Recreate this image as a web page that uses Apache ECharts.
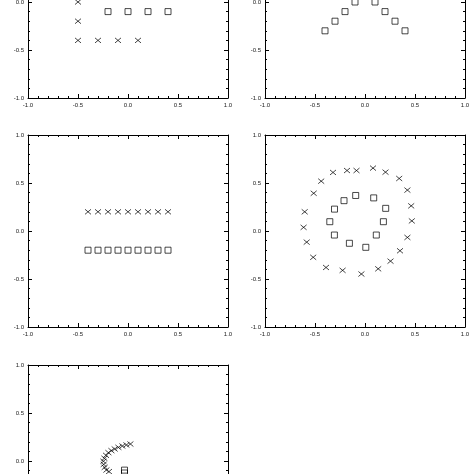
<!DOCTYPE html>
<html>
<head>
<meta charset="utf-8">
<script src="https://cdn.jsdelivr.net/npm/echarts@6/dist/echarts.min.js"></script>
<style>
html,body{margin:0;padding:0;background:#fff;}
#c{width:474px;height:474px;}
</style>
</head>
<body>
<div id="c"></div>
<script>
// Panel 1 (top-left)
var p1Cross = [[-0.5,0.0],[-0.5,-0.2],[-0.5,-0.4],[-0.3,-0.4],[-0.1,-0.4],[0.1,-0.4]];
var p1Square = [[-0.2,-0.1],[0.0,-0.1],[0.2,-0.1],[0.4,-0.1]];
// Panel 2 (top-right)
var p2Square = [[-0.4,-0.3],[-0.3,-0.2],[-0.2,-0.1],[-0.1,0.0],[0.1,0.0],[0.2,-0.1],[0.3,-0.2],[0.4,-0.3]];
// Panel 3 (middle-left)
var p3Cross = [[-0.4,0.2],[-0.3,0.2],[-0.2,0.2],[-0.1,0.2],[0.0,0.2],[0.1,0.2],[0.2,0.2],[0.3,0.2],[0.4,0.2]];
var p3Square = [[-0.4,-0.2],[-0.3,-0.2],[-0.2,-0.2],[-0.1,-0.2],[0.0,-0.2],[0.1,-0.2],[0.2,-0.2],[0.3,-0.2],[0.4,-0.2]];
// Panel 4 (middle-right)
var p4Cross = [[-0.32,0.61],[-0.18,0.63],[-0.085,0.63],[0.08,0.655],[0.205,0.613],[0.342,0.547],[0.424,0.426],[0.462,0.262],[0.468,0.105],
  [0.424,-0.067],[0.35,-0.206],[0.255,-0.314],[0.132,-0.394],[-0.036,-0.448],[-0.224,-0.41],[-0.39,-0.38],[-0.518,-0.274],
  [-0.583,-0.116],[-0.614,0.038],[-0.603,0.2],[-0.513,0.393],[-0.438,0.519]];
var p4Square = [[-0.093,0.37],[0.087,0.345],[0.207,0.236],[0.184,0.097],[0.113,-0.042],[0.008,-0.17],[-0.156,-0.128],
  [-0.306,-0.042],[-0.352,0.097],[-0.305,0.228],[-0.21,0.316]];
// Panel 5 (bottom-left)
var p5Cross = [[0.024,0.177],[-0.016,0.167],[-0.056,0.156],[-0.096,0.142],[-0.133,0.125],[-0.166,0.108],[-0.196,0.087],
  [-0.22,0.059],[-0.236,0.028],[-0.246,-0.003],[-0.243,-0.035],[-0.233,-0.066],[-0.216,-0.094],[-0.19,-0.11]];
var p5Square = [[-0.035,-0.095],[-0.035,-0.125]];
// Axis ticks
var axisMin = -1, axisMax = 1, axisStep = 0.5;

var grids = [
  {left:28, top:-94, width:200, height:192},
  {left:265, top:-94, width:200, height:192},
  {left:28, top:135, width:200, height:192},
  {left:265, top:135, width:200, height:192},
  {left:28, top:365, width:200, height:192}
].map(function(g){ g.outerBoundsMode = 'none'; g.containLabel = false; return g; });

var crossPath = 'path://M0,0L10,10M10,0L0,10';
function fmt(v){ return v.toFixed(1); }

var xAxes = [], yAxes = [];
grids.forEach(function(g, i){
  var common = {
    type:'value', gridIndex:i, min:axisMin, max:axisMax, interval:axisStep,
    splitLine:{show:false},
    axisLine:{show:true, onZero:false, lineStyle:{color:'#000', width:1}},
    axisTick:{show:true, inside:true, length:4, lineStyle:{color:'#000', width:1}},
    minorTick:{show:true, splitNumber:5, length:2, lineStyle:{color:'#000', width:1}}
  };
  var lbl = {show:true, color:'#222', fontSize:6, fontFamily:'Liberation Sans, Arial, sans-serif', formatter:fmt};
  xAxes.push(Object.assign({}, common, {position:'bottom', axisLabel:Object.assign({margin:4}, lbl)}));
  xAxes.push(Object.assign({}, common, {position:'top', axisLabel:{show:false}}));
  yAxes.push(Object.assign({}, common, {position:'left', axisLabel:Object.assign({margin:4}, lbl)}));
  yAxes.push(Object.assign({}, common, {position:'right', axisLabel:{show:false}}));
});

function crossSeries(data, i){
  return {type:'scatter', xAxisIndex:2*i, yAxisIndex:2*i, data:data, symbol:crossPath, symbolSize:[6,5],
    itemStyle:{color:'transparent', borderColor:'#000', borderWidth:0.9}, silent:true, animation:false};
}
function squareSeries(data, i){
  return {type:'scatter', xAxisIndex:2*i, yAxisIndex:2*i, data:data, symbol:'rect', symbolSize:6,
    itemStyle:{color:'transparent', borderColor:'#000', borderWidth:0.9}, silent:true, animation:false};
}

var chart = echarts.init(document.getElementById('c'), null, {renderer:'canvas'});
chart.setOption({
  backgroundColor:'#fff',
  animation:false,
  grid:grids,
  xAxis:xAxes,
  yAxis:yAxes,
  series:[
    crossSeries(p1Cross,0), squareSeries(p1Square,0),
    squareSeries(p2Square,1),
    crossSeries(p3Cross,2), squareSeries(p3Square,2),
    crossSeries(p4Cross,3), squareSeries(p4Square,3),
    crossSeries(p5Cross,4), squareSeries(p5Square,4)
  ]
});
</script>
</body>
</html>
